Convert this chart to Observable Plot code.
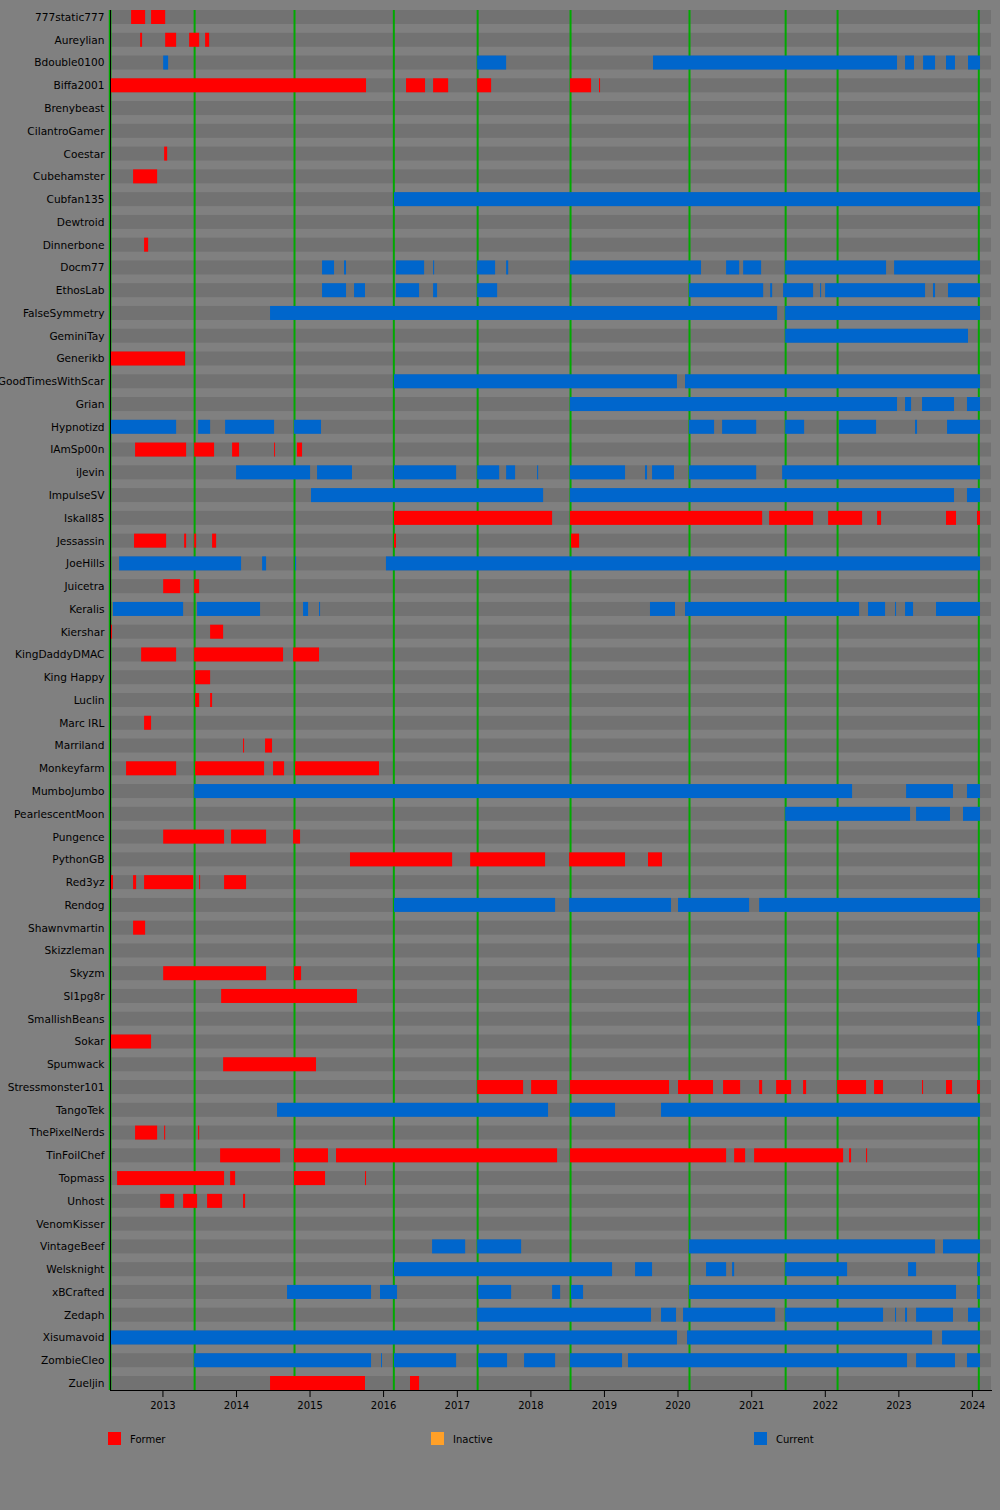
<!DOCTYPE html>
<html>
<head>
<meta charset="utf-8">
<script src="https://cdn.jsdelivr.net/npm/d3@7"></script>
<script src="https://cdn.jsdelivr.net/npm/@observablehq/plot@0.6"></script>
<style>
html,body{margin:0;padding:0;background:#808080;}
body{width:1000px;height:1510px;font-family:"DejaVu Sans",sans-serif;position:relative;overflow:hidden;}
#chart svg{display:block;overflow:visible;}
.legend{position:absolute;top:1432px;left:0;width:1000px;height:14px;}
.item{position:absolute;top:0;font-size:10px;line-height:13px;color:#000;}
.sw{position:absolute;left:0;top:0;width:13px;height:13px;}
.lab{position:absolute;left:22px;top:1px;white-space:nowrap;}
</style>
</head>
<body>
<div id="chart"></div>
<div class="legend" id="legend"></div>
<script>
const names = ["777static777","Aureylian","Bdouble0100","Biffa2001","Brenybeast","CilantroGamer","Coestar","Cubehamster","Cubfan135","Dewtroid","Dinnerbone","Docm77","EthosLab","FalseSymmetry","GeminiTay","Generikb","GoodTimesWithScar","Grian","Hypnotizd","IAmSp00n","iJevin","ImpulseSV","Iskall85","Jessassin","JoeHills","Juicetra","Keralis","Kiershar","KingDaddyDMAC","King Happy","Luclin","Marc IRL","Marriland","Monkeyfarm","MumboJumbo","PearlescentMoon","Pungence","PythonGB","Red3yz","Rendog","Shawnvmartin","Skizzleman","Skyzm","Sl1pg8r","SmallishBeans","Sokar","Spumwack","Stressmonster101","TangoTek","ThePixelNerds","TinFoilChef","Topmass","Unhost","VenomKisser","VintageBeef","Welsknight","xBCrafted","Zedaph","Xisumavoid","ZombieCleo","Zueljin"];

const status = ["Former","Former","Current","Former","Inactive","Inactive","Former","Former","Current","Inactive","Former","Current","Current","Current","Current","Former","Current","Current","Current","Former","Current","Current","Former","Former","Current","Former","Current","Former","Former","Former","Former","Former","Former","Former","Current","Current","Former","Former","Former","Current","Former","Current","Former","Former","Current","Former","Former","Former","Current","Former","Former","Former","Former","Inactive","Current","Current","Current","Current","Current","Current","Former"];

const statusLabels = ["Former","Inactive","Current"];
const statusColors = ["#ff0000","#ffa028","#0066cc"];

const seasonStarts = [2012.289,2013.431,2014.789,2016.139,2017.276,2018.539,2020.156,2021.461,2022.167,2024.087];
const xDomain = [2012.289,2024.259];
const tickYears = [2013,2014,2015,2016,2017,2018,2019,2020,2021,2022,2023,2024];

const spans = [
["777static777",2012.575,2012.765],["777static777",2012.846,2013.037],
["Aureylian",2012.697,2012.724],["Aureylian",2013.037,2013.186],["Aureylian",2013.363,2013.499],["Aureylian",2013.580,2013.635],
["Bdouble0100",2013.010,2013.077],["Bdouble0100",2017.276,2017.670],["Bdouble0100",2019.667,2022.982],["Bdouble0100",2023.091,2023.213],["Bdouble0100",2023.336,2023.499],["Bdouble0100",2023.648,2023.770],["Bdouble0100",2023.947,2024.110],
["Biffa2001",2012.299,2015.768],["Biffa2001",2016.311,2016.569],["Biffa2001",2016.678,2016.882],["Biffa2001",2017.276,2017.466],["Biffa2001",2018.539,2018.825],["Biffa2001",2018.933,2018.947],
["Coestar",2013.023,2013.064],
["Cubehamster",2012.602,2012.928],
["Cubfan135",2016.148,2024.110],
["Dinnerbone",2012.751,2012.806],
["Docm77",2015.170,2015.333],["Docm77",2015.469,2015.496],["Docm77",2016.175,2016.556],["Docm77",2016.678,2016.692],["Docm77",2017.276,2017.520],["Docm77",2017.670,2017.698],["Docm77",2018.539,2020.319],["Docm77",2020.659,2020.836],["Docm77",2020.890,2021.134],["Docm77",2021.461,2022.833],["Docm77",2022.942,2024.110],
["EthosLab",2015.170,2015.496],["EthosLab",2015.605,2015.754],["EthosLab",2016.175,2016.488],["EthosLab",2016.678,2016.732],["EthosLab",2017.276,2017.548],["EthosLab",2020.156,2021.162],["EthosLab",2021.257,2021.284],["EthosLab",2021.433,2021.841],["EthosLab",2021.936,2021.950],["EthosLab",2022.004,2023.363],["EthosLab",2023.471,2023.499],["EthosLab",2023.675,2024.110],
["FalseSymmetry",2014.463,2021.352],["FalseSymmetry",2021.461,2024.110],
["GeminiTay",2021.461,2023.947],
["Generikb",2012.299,2013.308],
["GoodTimesWithScar",2016.148,2019.993],["GoodTimesWithScar",2020.102,2024.110],
["Grian",2018.539,2022.982],["Grian",2023.091,2023.173],["Grian",2023.322,2023.757],["Grian",2023.933,2024.110],
["Hypnotizd",2012.299,2013.186],["Hypnotizd",2013.485,2013.648],["Hypnotizd",2013.852,2014.518],["Hypnotizd",2014.789,2015.156],["Hypnotizd",2020.156,2020.496],["Hypnotizd",2020.605,2021.067],["Hypnotizd",2021.461,2021.719],["Hypnotizd",2022.194,2022.697],["Hypnotizd",2023.227,2023.254],["Hypnotizd",2023.662,2024.110],
["IAmSp00n",2012.629,2013.322],["IAmSp00n",2013.431,2013.702],["IAmSp00n",2013.947,2014.042],["IAmSp00n",2014.518,2014.531],["IAmSp00n",2014.830,2014.898],
["iJevin",2014.001,2015.007],["iJevin",2015.102,2015.577],["iJevin",2016.148,2016.990],["iJevin",2017.276,2017.575],["iJevin",2017.670,2017.792],["iJevin",2018.091,2018.105],["iJevin",2018.539,2019.287],["iJevin",2019.558,2019.586],["iJevin",2019.654,2019.952],["iJevin",2020.156,2021.067],["iJevin",2021.420,2024.110],
["ImpulseSV",2015.020,2018.173],["ImpulseSV",2018.539,2023.757],["ImpulseSV",2023.933,2024.110],
["Iskall85",2016.148,2018.295],["Iskall85",2018.539,2021.148],["Iskall85",2021.243,2021.841],["Iskall85",2022.045,2022.507],["Iskall85",2022.711,2022.765],["Iskall85",2023.648,2023.784],["Iskall85",2024.069,2024.110],
["Jessassin",2012.615,2013.050],["Jessassin",2013.295,2013.322],["Jessassin",2013.431,2013.458],["Jessassin",2013.675,2013.730],["Jessassin",2016.148,2016.175],["Jessassin",2018.553,2018.662],
["JoeHills",2012.412,2014.069],["JoeHills",2014.355,2014.409],["JoeHills",2014.803,2014.817],["JoeHills",2016.039,2024.110],
["Juicetra",2013.010,2013.240],["Juicetra",2013.431,2013.499],
["Keralis",2012.330,2013.281],["Keralis",2013.471,2014.327],["Keralis",2014.912,2014.980],["Keralis",2015.129,2015.143],["Keralis",2019.626,2019.966],["Keralis",2020.102,2022.466],["Keralis",2022.588,2022.819],["Keralis",2022.955,2022.969],["Keralis",2023.091,2023.200],["Keralis",2023.512,2024.110],
["Kiershar",2012.299,2012.315],["Kiershar",2013.648,2013.825],
["KingDaddyDMAC",2012.711,2013.186],["KingDaddyDMAC",2013.431,2014.640],["KingDaddyDMAC",2014.776,2015.129],
["King Happy",2013.444,2013.648],
["Luclin",2013.444,2013.499],["Luclin",2013.648,2013.675],
["Marc IRL",2012.751,2012.846],
["Marriland",2014.096,2014.110],["Marriland",2014.395,2014.490],
["Monkeyfarm",2012.507,2013.186],["Monkeyfarm",2013.444,2014.382],["Monkeyfarm",2014.504,2014.654],["Monkeyfarm",2014.803,2015.944],
["MumboJumbo",2013.431,2022.371],["MumboJumbo",2023.105,2023.743],["MumboJumbo",2023.933,2024.110],
["PearlescentMoon",2021.461,2023.159],["PearlescentMoon",2023.241,2023.702],["PearlescentMoon",2023.879,2024.110],
["Pungence",2013.010,2013.838],["Pungence",2013.933,2014.409],["Pungence",2014.776,2014.871],
["PythonGB",2015.550,2016.936],["PythonGB",2017.181,2018.200],["PythonGB",2018.526,2019.287],["PythonGB",2019.599,2019.789],
["Red3yz",2012.299,2012.330],["Red3yz",2012.602,2012.643],["Red3yz",2012.751,2013.417],["Red3yz",2013.499,2013.512],["Red3yz",2013.838,2014.137],
["Rendog",2016.148,2018.336],["Rendog",2018.526,2019.912],["Rendog",2020.007,2020.971],["Rendog",2021.107,2024.110],
["Shawnvmartin",2012.602,2012.765],
["Skizzleman",2024.069,2024.110],
["Skyzm",2013.010,2014.409],["Skyzm",2014.789,2014.885],
["Sl1pg8r",2013.798,2015.645],
["SmallishBeans",2024.069,2024.110],
["Sokar",2012.299,2012.846],
["Spumwack",2013.825,2015.088],
["Stressmonster101",2017.276,2017.901],["Stressmonster101",2018.010,2018.363],["Stressmonster101",2018.539,2019.885],["Stressmonster101",2020.007,2020.482],["Stressmonster101",2020.618,2020.849],["Stressmonster101",2021.107,2021.148],["Stressmonster101",2021.338,2021.542],["Stressmonster101",2021.705,2021.746],["Stressmonster101",2022.167,2022.561],["Stressmonster101",2022.670,2022.792],["Stressmonster101",2023.322,2023.336],["Stressmonster101",2023.648,2023.730],["Stressmonster101",2024.069,2024.110],
["TangoTek",2014.558,2018.240],["TangoTek",2018.539,2019.151],["TangoTek",2019.776,2024.110],
["ThePixelNerds",2012.629,2012.928],["ThePixelNerds",2013.023,2013.037],["ThePixelNerds",2013.485,2013.499],
["TinFoilChef",2013.784,2014.599],["TinFoilChef",2014.789,2015.251],["TinFoilChef",2015.360,2018.363],["TinFoilChef",2018.539,2020.659],["TinFoilChef",2020.768,2020.917],["TinFoilChef",2021.039,2022.249],["TinFoilChef",2022.330,2022.357],["TinFoilChef",2022.561,2022.575],
["Topmass",2012.385,2013.838],["Topmass",2013.920,2013.988],["Topmass",2014.789,2015.211],["Topmass",2015.754,2015.768],
["Unhost",2012.969,2013.159],["Unhost",2013.281,2013.471],["Unhost",2013.607,2013.811],["Unhost",2014.096,2014.124],
["VintageBeef",2016.664,2017.113],["VintageBeef",2017.276,2017.874],["VintageBeef",2020.156,2023.499],["VintageBeef",2023.607,2024.110],
["Welsknight",2016.148,2019.110],["Welsknight",2019.423,2019.654],["Welsknight",2020.387,2020.659],["Welsknight",2020.740,2020.768],["Welsknight",2021.461,2022.303],["Welsknight",2023.132,2023.241],["Welsknight",2024.069,2024.110],
["xBCrafted",2014.694,2015.836],["xBCrafted",2015.958,2016.189],["xBCrafted",2017.290,2017.738],["xBCrafted",2018.295,2018.404],["xBCrafted",2018.553,2018.716],["xBCrafted",2020.156,2023.784],["xBCrafted",2024.069,2024.110],
["Zedaph",2017.276,2019.640],["Zedaph",2019.776,2019.980],["Zedaph",2020.075,2021.325],["Zedaph",2021.461,2022.792],["Zedaph",2022.955,2022.969],["Zedaph",2023.091,2023.118],["Zedaph",2023.241,2023.743],["Zedaph",2023.947,2024.110],
["Xisumavoid",2012.299,2019.993],["Xisumavoid",2020.129,2023.458],["Xisumavoid",2023.594,2024.110],
["ZombieCleo",2013.431,2015.836],["ZombieCleo",2015.972,2015.985],["ZombieCleo",2016.148,2016.990],["ZombieCleo",2017.290,2017.683],["ZombieCleo",2017.914,2018.336],["ZombieCleo",2018.539,2019.246],["ZombieCleo",2019.327,2023.118],["ZombieCleo",2023.241,2023.770],["ZombieCleo",2023.933,2024.110],
["Zueljin",2014.463,2015.754],["Zueljin",2016.365,2016.488]
];

// decimal year -> Date
function toDate(y) {
  const yr = Math.floor(y);
  const s = Date.UTC(yr, 0, 1), e = Date.UTC(yr + 1, 0, 1);
  return new Date(s + (y - yr) * (e - s));
}
const statusOf = new Map(names.map((n, i) => [n, status[i]]));

const chart = Plot.plot({
  width: 1000,
  height: 1420,
  marginLeft: 110,
  marginRight: 9,
  marginTop: 10,
  marginBottom: 30,
  style: {background: "transparent", fontFamily: "DejaVu Sans", fontSize: "10px", color: "#000", overflow: "visible"},
  x: {type: "utc", domain: xDomain.map(toDate)},
  y: {type: "band", domain: names, paddingInner: 0.385, paddingOuter: 0, round: false},
  color: {domain: statusLabels, range: statusColors},
  marks: [
    Plot.barX(names, {x1: () => toDate(xDomain[0]), x2: () => toDate(xDomain[1]), y: d => d, fill: "#727272"}),
    Plot.ruleX(seasonStarts, {x: d => toDate(d), stroke: "#00aa00", strokeWidth: 2}),
    Plot.ruleX(seasonStarts.slice(0, 1), {x: d => toDate(d), stroke: "#00aa00", strokeWidth: 1.5, dx: -1}),
    Plot.barX(spans, {x1: d => toDate(d[1]), x2: d => toDate(d[2]), y: d => d[0], fill: d => statusOf.get(d[0])}),
    Plot.axisX({ticks: tickYears.map(toDate), tickFormat: d3.utcFormat("%Y"), tickSize: 7, tickPadding: 4, label: null}),
    Plot.axisY({tickSize: 0, tickPadding: 6, label: null, fontSize: 10.6}),
    Plot.frame({anchor: "left", stroke: "#000"}),
    Plot.frame({anchor: "bottom", stroke: "#000"})
  ]
});
document.getElementById("chart").appendChild(chart);

// legend
const legend = document.getElementById("legend");
const legendLeft = [108, 431, 754];
statusLabels.forEach((lab, i) => {
  const item = document.createElement("div");
  item.className = "item";
  item.style.left = legendLeft[i] + "px";
  const sw = document.createElement("div");
  sw.className = "sw";
  sw.style.background = statusColors[i];
  const t = document.createElement("span");
  t.className = "lab";
  t.textContent = lab;
  item.appendChild(sw);
  item.appendChild(t);
  legend.appendChild(item);
});
</script>
</body>
</html>
